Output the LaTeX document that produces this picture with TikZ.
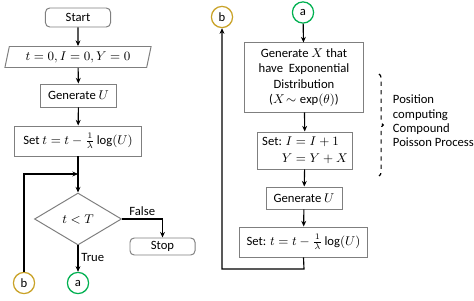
\documentclass[tikz,border=0pt]{standalone}
\usepackage{amsmath,amssymb}
\usepackage{fontspec}
\setmainfont{Carlito}
\usepackage{tikz}
\usetikzlibrary{shapes.geometric,arrows.meta,decorations.pathreplacing}
\definecolor{edgegray}{HTML}{7F7F7F}
\definecolor{linkgreen}{HTML}{00B050}
\definecolor{linkgold}{HTML}{C9A227}
\tikzset{box/.style={draw=edgegray,line width=0.7pt,fill=white,align=center,inner sep=1pt},
  term/.style={box,rounded corners=3pt},
  link/.style={circle,line width=0.9pt,minimum size=0.53cm,inner sep=0pt},
  arr/.style={line width=0.8pt,-{Stealth[length=4pt,width=3.5pt]}}}

\begin{document}
\begin{tikzpicture}[x=0.025cm,y=-0.025cm,font=\fontsize{9}{11}\selectfont]
\useasboundingbox (0,0) rectangle (474,301);
% left column
\node[term,minimum width=1.625cm,minimum height=0.475cm] (start) at (78,17.5) {Start};
\node[box,trapezium,trapezium left angle=76,trapezium right angle=104,trapezium stretches=true,
  minimum width=3.675cm,minimum height=0.525cm] (init) at (78,57) {$t=0,I=0,Y=0$};
\node[box,minimum width=1.875cm,minimum height=0.575cm] (genU) at (78.5,95.5) {Generate $U$};
\node[box,minimum width=3.15cm,minimum height=0.75cm] (sett) at (78,141) {Set $t=t-\frac{1}{\lambda}\log(U)$};
\node[box,diamond,inner sep=0pt,minimum width=2.175cm,minimum height=1.3cm] (dec) at (78,219) {$t<T$};
\node[term,minimum width=1.625cm,minimum height=0.425cm] (stop) at (162.5,246.5) {Stop};
\node[link,draw=linkgreen] (a1) at (78,283) {a};
\node[link,draw=linkgold] (b1) at (24,283) {b};
\coordinate (merge) at (78,174);
\draw[arr] (start) -- (init); \draw[arr] (init) -- (genU); \draw[arr] (genU) -- (sett);
\draw[arr] (sett.south) -- (dec.north);
\draw[arr] (b1.north) |- (merge);
\draw[arr] (dec.east) -| node[pos=0.25,above,inner sep=2pt] (lbfalse) {False} (stop.north);
\draw[arr] (dec.south) -- node[pos=0.45,right,inner sep=2pt] (lbtrue) {True} (a1.north);
% right column
\node[link,draw=linkgold] (b2) at (222,17) {b};
\node[link,draw=linkgreen] (a2) at (303,12.5) {a};
\node[box,minimum width=2.95cm,minimum height=1.725cm] (genX) at (304,77.5)
  {Generate $X$ that\\have\ \ Exponential\\Distribution\\($X\!\sim\exp(\theta)$)};
\node[box,minimum width=2.35cm,minimum height=0.925cm] (setI) at (305,150.5)
  {$\begin{aligned}\text{Set: }I&=I+1\\[-2pt] Y&=Y+X\end{aligned}$};
\node[box,minimum width=1.9cm,minimum height=0.55cm] (genU2) at (304,198) {Generate $U$};
\node[box,minimum width=3.175cm,minimum height=0.75cm] (sett2) at (303.5,242) {Set: $t=t-\frac{1}{\lambda}\log(U)$};
\coordinate (back) at (304,269);
\draw[arr] (a2) -- (genX); \draw[arr] (genX) -- (setI); \draw[arr] (setI) -- (genU2); \draw[arr] (genU2) -- (sett2);
\draw[arr] (sett2.south) -- (back) -| (b2.south);
\draw[line width=0.8pt,dashed,decorate,decoration={brace,amplitude=3pt}] (379,74) -- (379,176);
\node[anchor=west,align=left,font=\fontsize{9}{10.2}\selectfont] (note) at (388,121)
  {Position\\computing\\Compound\\Poisson Process};
\end{tikzpicture}
\end{document}
